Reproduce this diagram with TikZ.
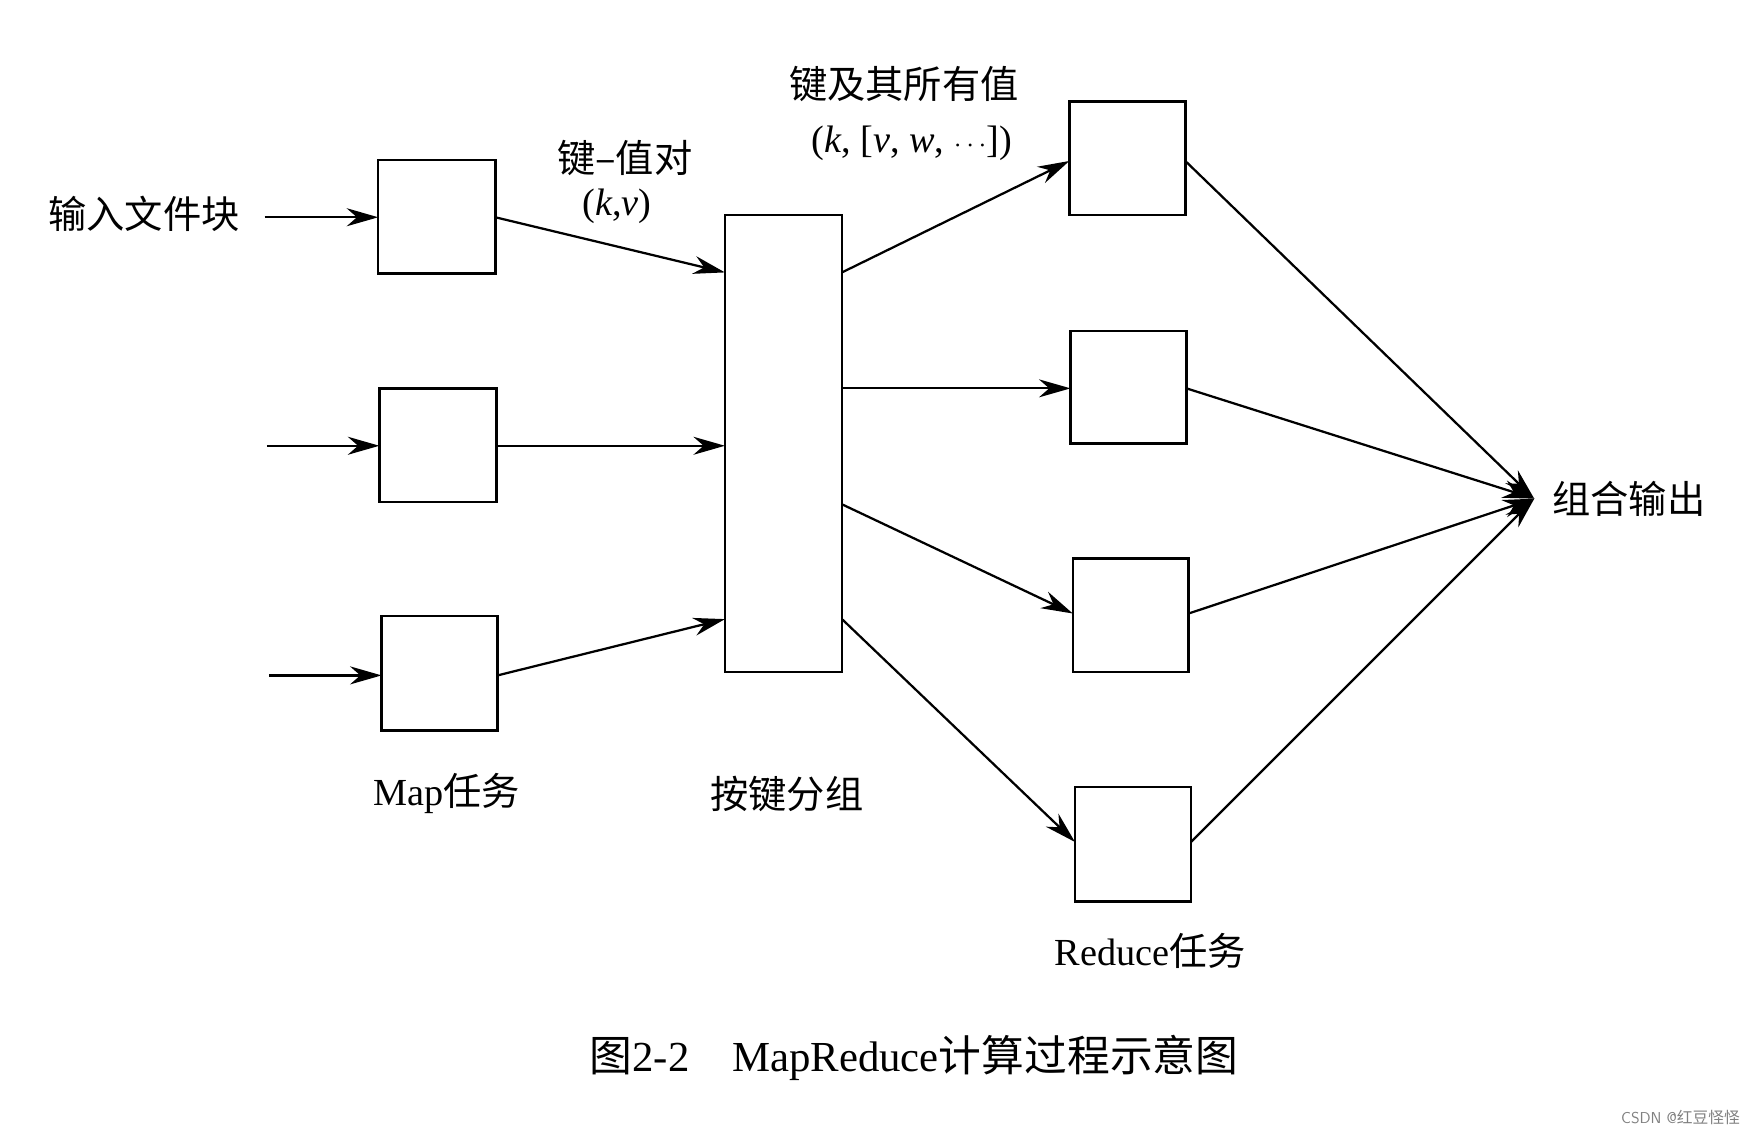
\documentclass[tikz,border=0pt]{standalone}
\usepackage{fontspec}
\setmainfont{Liberation Serif}
\newfontfamily\cjk{Noto Sans CJK SC}
\usetikzlibrary{arrows.meta}
\begin{document}
\begin{tikzpicture}[x=1pt,y=-1pt,
 bx/.style={draw,line width=2.2pt},
 ar/.style={line width=2pt,-{Stealth[length=28pt,width=16pt]}},
 lab/.style={font=\fontsize{34}{38}\selectfont}]
\useasboundingbox (0,0) rectangle (1560,1005);
\fill[white] (0,0) rectangle (1560,1005);
\draw[bx] (336,142) rectangle (440,243);
\draw[bx] (337,345) rectangle (441,446);
\draw[bx] (339,547) rectangle (442,649);
\draw[bx] (644,191) rectangle (748,597);
\draw[bx] (950,90) rectangle (1053,191);
\draw[bx] (951,294) rectangle (1054,394);
\draw[bx] (953,496) rectangle (1056,597);
\draw[bx] (955,699) rectangle (1058,801);
\coordinate (i1) at (235,193); \coordinate (i2) at (237,396); \coordinate (i3) at (239,600);
\coordinate (o) at (1363,443);
\draw[ar] (i1) -- (336,193);
\draw[ar] (i2) -- (337,396);
\draw[ar] (i3) -- (339,600);
\draw[ar] (440,193) -- (644,242);
\draw[ar] (441,396) -- (644,396);
\draw[ar] (442,600) -- (644,550);
\draw[ar] (748,242) -- (950,143);
\draw[ar] (748,345) -- (951,345);
\draw[ar] (748,448) -- (953,545);
\draw[ar] (748,550) -- (955,748);
\draw[ar] (1053,143) -- (o);
\draw[ar] (1054,345) -- (o);
\draw[ar] (1056,545) -- (o);
\draw[ar] (1058,748) -- (o);
\node[lab] (t0) at (128,190) {\cjk 输入文件块};
\node[lab] (t1) at (555,140) {\cjk 键–值对};
\node[lab] (t2) at (548,183) {(\textit{k},\textit{v})};
\node[lab] (t3) at (803,75) {\cjk 键及其所有值};
\node[lab] (t4) at (810,127) {(\textit{k}, [\textit{v}, \textit{w}, $\cdots$])};
\node[lab] (t5) at (1447,443) {\cjk 组合输出};
\node[lab] (t6) at (397,705) {Map{\cjk 任务}};
\node[lab] (t7) at (699,705) {\cjk 按键分组};
\node[lab] (t8) at (1022,845) {Reduce{\cjk 任务}};
\node[font=\fontsize{38}{42}\selectfont] (t9) at (812,940) {{\cjk 图}2-2\quad MapReduce{\cjk 计算过程示意图}};
\node[font=\fontsize{14}{16}\selectfont\sffamily,text=gray] (t10) at (1493,993) {CSDN @{\cjk 红豆怪怪}};
\end{tikzpicture}
\end{document}
